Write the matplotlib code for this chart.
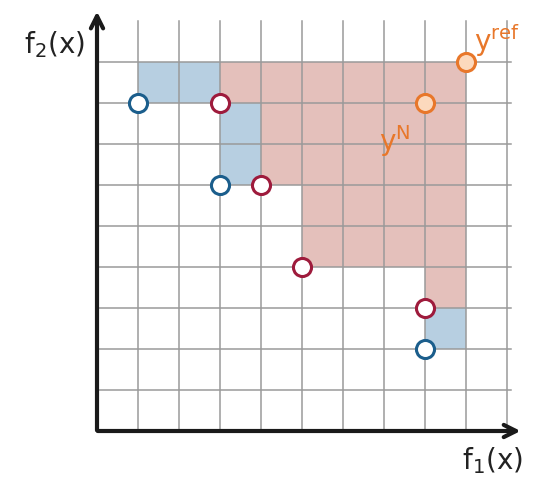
import matplotlib
matplotlib.use("Agg")
import matplotlib.pyplot as plt
from matplotlib.patches import Rectangle

blue_x = [1, 3, 8]
blue_y = [8, 6, 2]
red_x = [3, 4, 5, 8]
red_y = [8, 6, 4, 3]
ref = (9, 9)
yN = (8, 8)

fig = plt.figure(figsize=(5.5, 4.85), dpi=100)
ax = fig.add_axes([0, 0, 1, 1])
ax.set_xlim(-97/41, 453/41)
ax.set_ylim(-53/41, 432/41)
ax.axis('off')

def region(xs, ys):
    # union of boxes [x,ref]x[y,ref] as stair step
    pts = sorted(zip(xs, ys))
    rects = []
    for i, (x, y) in enumerate(pts):
        xn = pts[i+1][0] if i+1 < len(pts) else ref[0]
        rects.append((x, y, xn - x, ref[1] - y))
    return rects

for (x, y, w, h) in region(blue_x, blue_y):
    ax.add_patch(Rectangle((x, y), w, h, fc='#b7cfe1', ec='none', zorder=1))
for (x, y, w, h) in region(red_x, red_y):
    ax.add_patch(Rectangle((x, y), w, h, fc='#e4c0bb', ec='none', zorder=2))

for i in range(1, 11):
    ax.plot([i, i], [0, 10], color='#9a9a9a', lw=1.1, zorder=3)
for j in range(1, 10):
    ax.plot([0, 10.1], [j, j], color='#9a9a9a', lw=1.1, zorder=3)

ax.annotate('', xy=(10.4, 0), xytext=(-0.05, 0),
            arrowprops=dict(arrowstyle='->', lw=3, color='#1a1a1a', mutation_scale=22), zorder=5)
ax.annotate('', xy=(0, 10.3), xytext=(0, -0.05),
            arrowprops=dict(arrowstyle='->', lw=3, color='#1a1a1a', mutation_scale=22), zorder=5)

ax.plot(blue_x, blue_y, 'o', ms=13, mfc='white', mec='#1b5e8c', mew=2.2, ls='none', zorder=6)
ax.plot(red_x, red_y, 'o', ms=13, mfc='white', mec='#9e1b3c', mew=2.2, ls='none', zorder=6)
ax.plot([yN[0], ref[0]], [yN[1], ref[1]], 'o', ms=13, mfc='#fcd9bd', mec='#e8772a', mew=2.2, ls='none', zorder=6)

ax.text(-1.05, 9.45, r'$\mathregular{f_2(x)}$', fontsize=20, ha='center', va='center', color='#222222')
ax.text(9.65, -0.7, r'$\mathregular{f_1(x)}$', fontsize=20, ha='center', va='center', color='#222222')
ax.text(7.25, 7.1, r'$\mathregular{y^N}$', fontsize=20, ha='center', va='center', color='#e8772a')
ax.text(9.75, 9.55, r'$\mathregular{y^{ref}}$', fontsize=20, ha='center', va='center', color='#e8772a')

fig.savefig('out.png', dpi=100)
